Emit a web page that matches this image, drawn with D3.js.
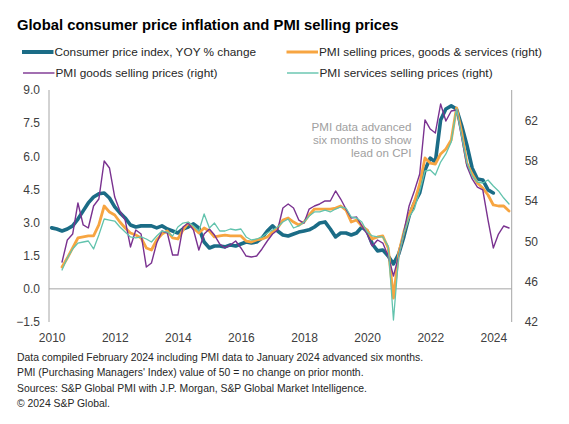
<!DOCTYPE html>
<html>
<head>
<meta charset="utf-8">
<script src="https://cdn.jsdelivr.net/npm/d3@7"></script>
<style>
  html, body { margin: 0; padding: 0; background: #fff; }
  svg { display: block; font-family: "Liberation Sans", Arial, sans-serif; }
</style>
</head>
<body>
<svg id="chart" width="569" height="424"></svg>
<script>
// ---- data (every second month, starting Jan 2010 for CPI, May 2010 for PMI) ----
const cpiStart = "2010-01";
const pmiStart = "2010-05";
const stepMonths = 2;

const cpiValues = [2.76,2.71,2.62,2.71,2.85,3.16,3.53,3.89,4.16,4.30,4.34,4.11,3.71,3.44,3.21,2.89,2.80,2.85,2.85,2.85,
  2.76,2.85,2.71,2.62,2.53,2.71,2.80,2.94,2.76,2.12,1.85,1.94,1.94,1.90,1.99,1.94,2.03,2.12,2.08,2.12,
  2.30,2.62,2.85,2.62,2.44,2.39,2.48,2.57,2.62,2.67,2.80,2.98,3.03,2.71,2.35,2.53,2.53,2.44,2.53,2.80,
  2.62,2.03,1.72,1.76,1.49,1.13,1.58,2.35,3.30,3.89,4.34,5.38,5.92,5.74,7.64,8.14,8.28,8.14,7.37,6.51,
  5.47,4.97,4.93,4.48,4.34];

const pmiAllValues = [47.45,48.34,49.34,50.33,50.43,50.53,50.53,51.62,53.50,52.91,52.61,51.91,51.32,50.82,50.62,50.33,49.34,49.14,
  50.13,50.72,51.02,50.33,50.23,51.12,51.81,51.32,50.82,51.32,51.02,50.43,50.53,50.62,50.53,50.53,50.53,50.03,49.93,50.13,
  50.23,50.43,50.92,51.32,52.11,52.31,51.91,51.62,51.91,52.61,53.20,53.20,53.20,53.20,53.30,53.50,53.10,51.91,52.11,51.52,
  51.12,50.23,50.43,50.53,49.34,44.38,48.84,50.92,52.61,53.90,55.68,58.26,57.76,57.66,58.66,59.15,60.04,63.22,60.74,57.76,
  56.67,55.78,55.28,54.59,53.60,53.50,53.50,53.00];

const pmiGoodsValues = [47.95,50.13,50.72,53.80,51.62,51.32,53.50,54.19,57.96,57.27,54.39,53.00,52.11,49.44,51.12,50.72,47.45,47.85,
  49.83,51.02,50.82,48.64,48.64,51.42,51.81,51.12,49.14,50.72,51.22,50.62,49.73,49.34,49.63,50.03,49.34,48.54,48.44,48.54,
  49.24,50.03,50.72,51.12,53.30,53.70,53.30,52.11,51.81,53.20,53.50,53.70,54.00,54.00,54.99,54.19,53.20,52.31,52.41,51.52,
  50.72,49.53,50.13,49.83,48.54,46.56,48.54,50.92,53.50,54.99,56.67,62.03,61.13,60.74,63.61,61.93,62.92,63.02,60.24,57.47,
  56.18,55.38,55.09,52.11,49.34,50.72,51.52,51.32];

const pmiServicesValues = [47.16,48.34,49.24,49.83,49.93,50.03,49.24,50.62,52.21,52.11,52.01,51.42,50.92,50.43,50.33,50.43,50.23,49.93,
  50.53,51.02,50.92,50.53,51.42,51.81,51.91,51.52,51.02,52.71,51.32,51.81,51.02,51.02,51.22,51.12,51.22,50.43,50.13,50.23,
  50.43,50.82,51.12,51.42,51.91,52.21,51.32,51.52,51.91,52.51,52.91,52.91,53.10,52.91,53.20,53.40,53.30,52.41,52.31,51.91,
  50.92,50.53,50.43,50.43,49.53,42.20,48.54,50.82,52.41,53.20,54.99,56.97,57.07,56.57,57.86,58.66,59.84,63.12,60.34,57.76,
  56.47,55.88,55.78,56.08,55.48,54.99,54.29,53.70];

const xTickYears = [2010, 2012, 2014, 2016, 2018, 2020, 2022, 2024];
const leftTicks = [-1.5, 0, 1.5, 3.0, 4.5, 6.0, 7.5, 9.0];
const rightTicks = [42, 46, 50, 54, 58, 62];

const seriesNames = [
  "Consumer price index, YOY % change",
  "PMI selling prices, goods & services (right)",
  "PMI goods selling prices (right)",
  "PMI services selling prices (right)"
];
const titleText = "Global consumer price inflation and PMI selling prices";
const noteLines = [
  "PMI data advanced",
  "six months to show",
  "lead on CPI"
];
const footLines = [
  "Data compiled February 2024 including PMI data to January 2024 advanced six months.",
  "PMI (Purchasing Managers' Index) value of 50 = no change on prior month.",
  "Sources: S&P Global PMI with J.P. Morgan, S&P Global Market Intelligence.",
  "\u00A9 2024 S&P Global."
];

// ---- build ----
const parseM = d3.timeParse("%Y-%m");
function toSeries(start, values) {
  const s = parseM(start);
  return values.map((v, i) => ({ date: d3.timeMonth.offset(s, i * stepMonths), value: v }));
}
const cpi = toSeries(cpiStart, cpiValues);
const pmiAll = toSeries(pmiStart, pmiAllValues);
const pmiGoods = toSeries(pmiStart, pmiGoodsValues);
const pmiServ = toSeries(pmiStart, pmiServicesValues);

const colors = { cpi: "#1b6c86", all: "#f7a541", goods: "#7a3290", serv: "#62c3ad" };
const svg = d3.select("#chart");
const plot = { left: 49, right: 511.7, top: 90, bottom: 322 };

const x = d3.scaleTime()
  .domain([parseM("2009-12"), parseM("2024-08")])
  .range([plot.left, plot.right]);
const yL = d3.scaleLinear().domain([-1.5, 9]).range([plot.bottom, plot.top]);
const yR = d3.scaleLinear().domain([42, 65]).range([plot.bottom, plot.top]);

const axisColor = "#a6a6a6";
const textColor = "#404040";

// title
svg.append("text").attr("x", 17).attr("y", 30)
  .attr("font-size", 14.8).attr("font-weight", "bold").attr("fill", "#000")
  .text(titleText);

// legend
const legend = [
  { name: seriesNames[0], color: colors.cpi, w: 4, x: 22, y: 52 },
  { name: seriesNames[1], color: colors.all, w: 3, x: 286.5, y: 52 },
  { name: seriesNames[2], color: colors.goods, w: 1.4, x: 23, y: 73 },
  { name: seriesNames[3], color: colors.serv, w: 1.4, x: 287, y: 73 }
];
legend.forEach(l => {
  svg.append("line").attr("x1", l.x).attr("x2", l.x + 31.5).attr("y1", l.y).attr("y2", l.y)
    .attr("stroke", l.color).attr("stroke-width", l.w);
  svg.append("text").attr("x", l.x + 32.5).attr("y", l.y + 4.2)
    .attr("font-size", 11.8).attr("fill", "#262626").text(l.name);
});

// axes lines
svg.append("line").attr("x1", plot.left).attr("x2", plot.left).attr("y1", plot.top).attr("y2", plot.bottom)
  .attr("stroke", axisColor).attr("stroke-width", 1);
svg.append("line").attr("x1", plot.right).attr("x2", plot.right).attr("y1", plot.top).attr("y2", plot.bottom)
  .attr("stroke", axisColor).attr("stroke-width", 1);
svg.append("line").attr("x1", plot.left).attr("x2", plot.right).attr("y1", yL(0)).attr("y2", yL(0))
  .attr("stroke", axisColor).attr("stroke-width", 1);

// left axis labels
const leftAxis = d3.axisLeft(yL).tickValues(leftTicks).tickFormat(d3.format(".1f")).tickSize(0).tickPadding(9);
const gL = svg.append("g").attr("transform", `translate(${plot.left},0)`).call(leftAxis);
gL.select(".domain").remove();
gL.selectAll("text").attr("font-size", 12).attr("fill", textColor).attr("font-family", "Liberation Sans, Arial, sans-serif");

// right axis labels
const rightAxis = d3.axisRight(yR).tickValues(rightTicks).tickFormat(d3.format("d")).tickSize(0).tickPadding(13);
const gR = svg.append("g").attr("transform", `translate(${plot.right},0)`).call(rightAxis);
gR.select(".domain").remove();
gR.selectAll("text").attr("font-size", 12).attr("fill", textColor).attr("font-family", "Liberation Sans, Arial, sans-serif");

// bottom axis labels
const xAxis = d3.axisBottom(x).tickValues(xTickYears.map(yv => new Date(yv, 0, 1)))
  .tickFormat(d3.timeFormat("%Y")).tickSize(0).tickPadding(0);
const gX = svg.append("g").attr("transform", `translate(0,${plot.bottom + 11})`).call(xAxis);
gX.select(".domain").remove();
gX.selectAll("text").attr("font-size", 12).attr("fill", textColor).attr("font-family", "Liberation Sans, Arial, sans-serif");

// lines
const lineL = d3.line().x(d => x(d.date)).y(d => yL(d.value));
const lineR = d3.line().x(d => x(d.date)).y(d => yR(d.value));
const g = svg.append("g").attr("fill", "none").attr("stroke-linejoin", "round").attr("stroke-linecap", "round");
g.append("path").datum(cpi).attr("d", lineL).attr("stroke", colors.cpi).attr("stroke-width", 3.6);
g.append("path").datum(pmiAll).attr("d", lineR).attr("stroke", colors.all).attr("stroke-width", 2.8);
g.append("path").datum(pmiGoods).attr("d", lineR).attr("stroke", colors.goods).attr("stroke-width", 1.4);
g.append("path").datum(pmiServ).attr("d", lineR).attr("stroke", colors.serv).attr("stroke-width", 1.3);

// annotation
noteLines.forEach((t, i) => {
  svg.append("text").attr("x", 411.5).attr("y", 130.8 + i * 13.3)
    .attr("text-anchor", "end").attr("font-size", 11.6).attr("fill", "#a0a0a0").text(t);
});

// footnotes
footLines.forEach((t, i) => {
  svg.append("text").attr("x", 17).attr("y", 361 + i * 15.4)
    .attr("font-size", 10.4).attr("fill", "#262626").text(t);
});
</script>
</body>
</html>
